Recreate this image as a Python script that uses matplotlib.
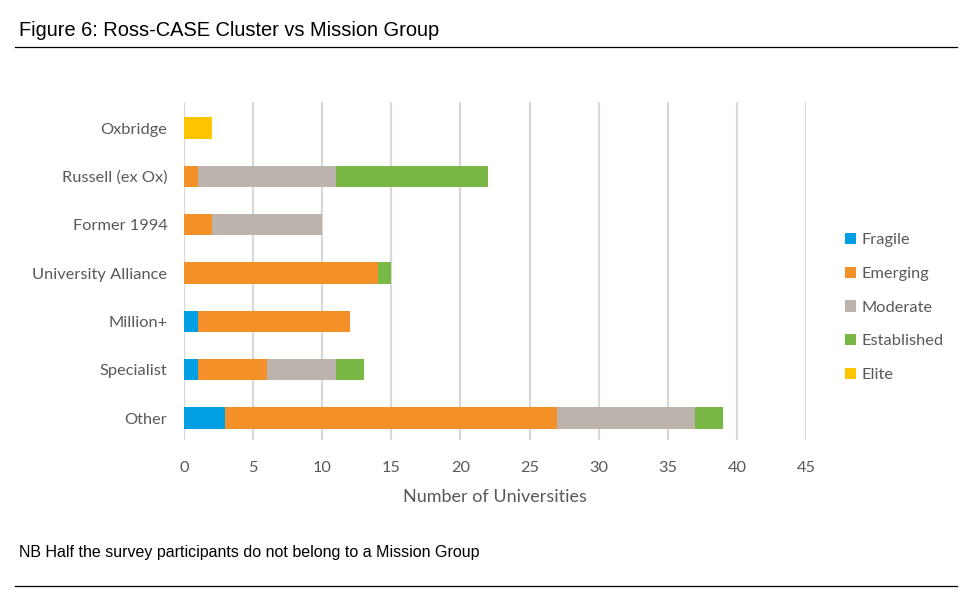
import matplotlib
matplotlib.use("Agg")
import matplotlib.pyplot as plt
from matplotlib.patches import Patch
import numpy as np

categories = ["Oxbridge", "Russell (ex Ox)", "Former 1994", "University Alliance",
              "Million+", "Specialist", "Other"]
series_names = ["Fragile", "Emerging", "Moderate", "Established", "Elite"]
fragile     = [0, 0, 0, 0, 1, 1, 3]
emerging    = [0, 1, 2, 14, 11, 5, 24]
moderate    = [0, 10, 8, 0, 0, 5, 10]
established = [0, 11, 0, 1, 0, 2, 2]
elite       = [2, 0, 0, 0, 0, 0, 0]
x_ticks = [0, 5, 10, 15, 20, 25, 30, 35, 40, 45]

colors = ["#009FE3", "#F39028", "#BBB3AC", "#79B844", "#FFC400"]
series = [fragile, emerging, moderate, established, elite]

W, H = 971, 604
fig = plt.figure(figsize=(W/100, H/100), dpi=100)
ax = fig.add_axes([184/W, 1-440/H, (806-184)/W, (440-102)/H])

y = np.arange(len(categories))
left = np.zeros(len(categories))
for vals, col, name in zip(series, colors, series_names):
    v = np.array(vals, dtype=float)
    ax.barh(y, v, left=left, height=0.44, color=col, label=name, zorder=3)
    left += v

ax.set_ylim(len(categories) - 1 + 0.455, -0.54)
ax.set_xlim(0, 45)
ax.set_xticks(x_ticks)
ax.grid(axis="x", color="#D9D9D9", linewidth=1.6, zorder=0)
ax.set_axisbelow(True)
for s in ax.spines.values():
    s.set_visible(False)
ax.tick_params(axis="both", length=0, colors="#595959")
ax.set_yticks(y)
ax.set_yticklabels(categories, fontsize=11.8, family="Lato", color="#595959")
for lab in ax.get_xticklabels():
    lab.set_fontsize(11.8)
    lab.set_family("Lato")
    lab.set_color("#595959")
ax.tick_params(axis="x", pad=15)
ax.tick_params(axis="y", pad=12)
ax.set_xlabel("Number of Universities", fontsize=13, family="Lato", color="#595959", labelpad=10.5)

handles = [Patch(facecolor=c, label=n) for c, n in zip(colors, series_names)]
leg = fig.legend(handles=handles, loc="center left", bbox_to_anchor=(830/W, 1-307.5/H),
                 frameon=False, prop={"family": "Lato", "size": 11.8},
                 handlelength=0.7, handleheight=0.7, handletextpad=0.35,
                 labelspacing=1.17, labelcolor="#595959")

fig.text(19/W, 1-31/H, "Figure 6: Ross-CASE Cluster vs Mission Group",
         fontsize=14.4, family="Liberation Sans", va="center", ha="left", color="black")
fig.add_artist(plt.Line2D([15/W, 957/W], [1-47/H, 1-47/H], color="black", linewidth=0.9))
fig.text(19/W, 1-553/H, "NB Half the survey participants do not belong to a Mission Group",
         fontsize=11.55, family="Liberation Sans", va="center", ha="left", color="black")
fig.add_artist(plt.Line2D([15/W, 957/W], [1-586/H, 1-586/H], color="black", linewidth=0.9))

fig.savefig("out.png", dpi=100, facecolor="white")
